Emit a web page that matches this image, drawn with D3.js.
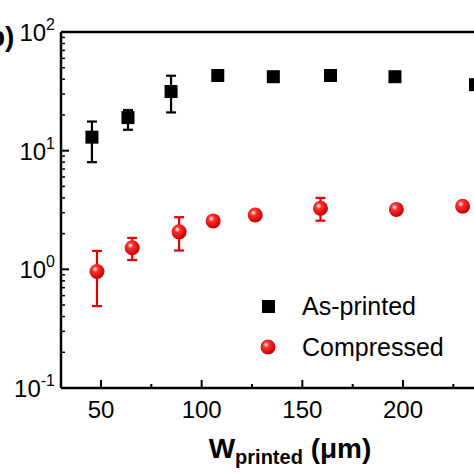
<!DOCTYPE html><html><head><meta charset="utf-8"><script src="https://cdn.jsdelivr.net/npm/d3@7"></script>
<style>body{margin:0;background:#fff}svg{display:block;font-family:Arial,'Liberation Sans',sans-serif}</style></head><body><svg id="c" width="474" height="474"></svg><script>
const asX=[45.5,63.4,84.8,108,135.6,164,196,236];
const asY=[13,19,31.5,43,42,43,42,36];
const asLo=[8,15,21,null,null,null,null,null];
const asHi=[17.6,22,42.8,null,null,null,null,null];
const cX=[48,65.5,88.8,105.7,126.6,159,196.7,229.6];
const cY=[0.96,1.52,2.07,2.56,2.87,3.27,3.2,3.4];
const cLo=[0.49,1.2,1.44,null,null,2.57,null,null];
const cHi=[1.43,1.84,2.75,null,null,4.0,null,null];
const xTicks=[50,100,150,200];
const yTicks=[0.1,1,10,100];
const svg=d3.select("#c");
const L=61,T=32,B=388;
const x=d3.scaleLinear().domain([50,200]).range([101,403]);
const y=d3.scaleLog().domain([0.1,100]).range([B,T]);
const defs=svg.append("defs");
const g=defs.append("radialGradient").attr("id","sph").attr("cx","0.38").attr("cy","0.35").attr("r","0.65");
g.append("stop").attr("offset","0").attr("stop-color","#fff");
g.append("stop").attr("offset","0.3").attr("stop-color","#ff3030");
g.append("stop").attr("offset","1").attr("stop-color","#c00000");
svg.append("line").attr("x1",L).attr("x2",480).attr("y1",T).attr("y2",T).attr("stroke","#000").attr("stroke-width",2.5);
svg.append("line").attr("x1",L).attr("x2",480).attr("y1",B).attr("y2",B).attr("stroke","#000").attr("stroke-width",2.5);
svg.append("line").attr("x1",L).attr("x2",L).attr("y1",T).attr("y2",B).attr("stroke","#000").attr("stroke-width",2.5);
const minors=[];for(let d=0.1;d<100;d*=10)for(let k=2;k<10;k++)minors.push(d*k);
svg.selectAll(".ym").data(minors).join("line").attr("x1",L).attr("x2",L+4).attr("y1",d=>y(d)).attr("y2",d=>y(d)).attr("stroke","#000").attr("stroke-width",1.5);
svg.selectAll(".yM").data(yTicks).join("line").attr("x1",L).attr("x2",L+8).attr("y1",d=>y(d)).attr("y2",d=>y(d)).attr("stroke","#000").attr("stroke-width",2);
const yl=svg.selectAll(".yl").data(yTicks).join("text").attr("x",L-6).attr("y",d=>y(d)+9).attr("text-anchor","end").attr("font-size",24);
yl.append("tspan").text("10");
yl.append("tspan").attr("dy",-11).attr("font-size",16).text(d=>Math.round(Math.log10(d)));
const xm=d3.range(25,300,25);
svg.selectAll(".xm").data(xm).join("line").attr("x1",d=>x(d)).attr("x2",d=>x(d)).attr("y1",B).attr("y2",d=>d%50?B-4:B-8).attr("stroke","#000").attr("stroke-width",2).filter(d=>x(d)<L).remove();
svg.selectAll(".xl").data(xTicks).join("text").attr("x",d=>x(d)).attr("y",B+30).attr("text-anchor","middle").attr("font-size",24).text(d=>d);
const xt=svg.append("text").attr("x",290).attr("y",458).attr("text-anchor","middle").attr("font-size",28).attr("font-weight","bold");
xt.append("tspan").text("W");xt.append("tspan").attr("font-size",20).attr("dy",6).text("printed");
xt.append("tspan").attr("dy",-6).text(" (\u03bcm)");
svg.append("text").attr("x",-12).attr("y",46).attr("font-size",28).attr("font-weight","bold").text("b)");
function eb(X,Lo,Hi,col){
 const d=X.map((v,i)=>({x:v,lo:Lo[i],hi:Hi[i]})).filter(e=>e.lo!=null);
 const gg=svg.append("g").attr("stroke",col).attr("stroke-width",2.2);
 gg.selectAll(".v").data(d).join("line").attr("x1",e=>x(e.x)).attr("x2",e=>x(e.x)).attr("y1",e=>y(e.lo)).attr("y2",e=>y(e.hi));
 gg.selectAll(".a").data(d).join("line").attr("x1",e=>x(e.x)-5).attr("x2",e=>x(e.x)+5).attr("y1",e=>y(e.lo)).attr("y2",e=>y(e.lo));
 gg.selectAll(".b").data(d).join("line").attr("x1",e=>x(e.x)-5).attr("x2",e=>x(e.x)+5).attr("y1",e=>y(e.hi)).attr("y2",e=>y(e.hi));
}
eb(asX,asLo,asHi,"#000");eb(cX,cLo,cHi,"#e00000");
svg.selectAll(".sq").data(asX).join("rect").attr("x",(d)=>x(d)-6.5).attr("y",(d,i)=>y(asY[i])-6.5).attr("width",13).attr("height",13).attr("fill","#000");
svg.selectAll(".ci").data(cX).join("circle").attr("cx",d=>x(d)).attr("cy",(d,i)=>y(cY[i])).attr("r",7.5).attr("fill","url(#sph)");
svg.append("rect").attr("x",262).attr("y",300).attr("width",13).attr("height",13).attr("fill","#000");
svg.append("circle").attr("cx",268).attr("cy",347).attr("r",7.5).attr("fill","url(#sph)");
svg.append("text").attr("x",302).attr("y",315).attr("font-size",25).text("As-printed");
svg.append("text").attr("x",302).attr("y",356).attr("font-size",25).text("Compressed");
</script></body></html>
